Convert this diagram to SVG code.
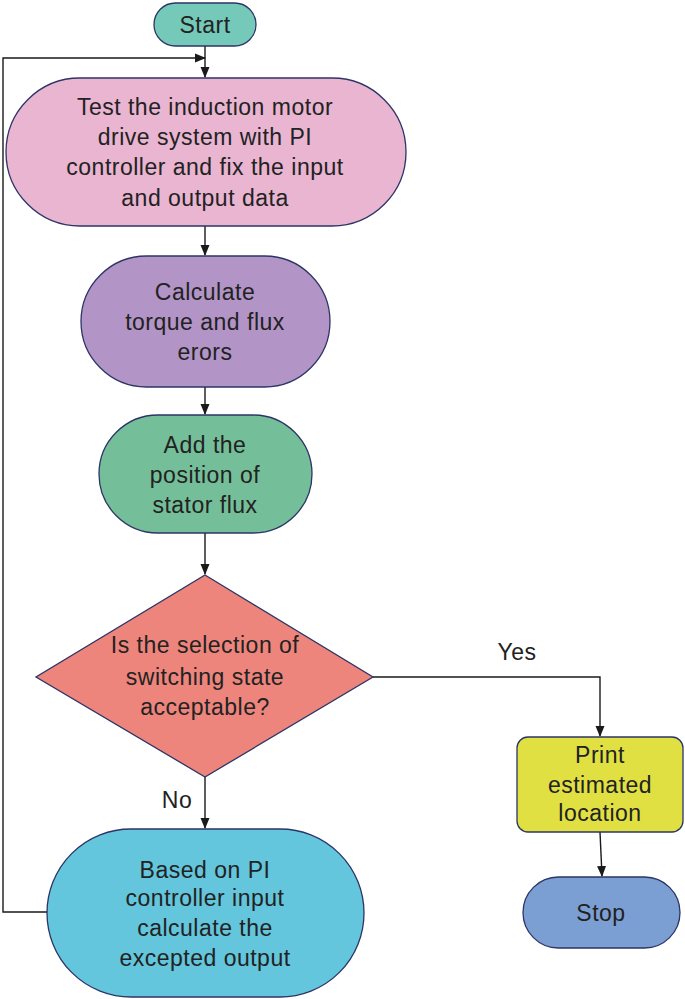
<svg xmlns="http://www.w3.org/2000/svg" width="685" height="999" viewBox="0 0 685 999">
<style>
.n{stroke:#2c3566;stroke-width:1.3}
.t{font-family:"Liberation Sans",Arial,sans-serif;font-size:23px;letter-spacing:0.5px;fill:#222;text-anchor:middle}
.c{fill:none;stroke:#1a1a1a;stroke-width:1.4}
</style>
<defs>
<marker id="a" markerWidth="11" markerHeight="11" refX="10" refY="5.5" orient="auto" markerUnits="userSpaceOnUse">
<path d="M0,1 L11,5.5 L0,10 Z" fill="#1a1a1a"/>
</marker>
</defs>
<rect width="685" height="999" fill="#fff"/>
<g id="connectors">
<path class="c" d="M205,46 V77" marker-end="url(#a)"/>
<path class="c" d="M48,912 H3 V58 H205" marker-end="url(#a)"/>
<path class="c" d="M205,226 V255" marker-end="url(#a)"/>
<path class="c" d="M205,387 V414" marker-end="url(#a)"/>
<path class="c" d="M205,533 V574" marker-end="url(#a)"/>
<path class="c" d="M373,677 H600 V736" marker-end="url(#a)"/>
<path class="c" d="M205,777 V828" marker-end="url(#a)"/>
<path class="c" d="M600,832 L602,876" marker-end="url(#a)"/>
<text class="t" x="517" y="660">Yes</text>
<text class="t" x="177" y="808">No</text>
</g>
<g id="start">
<rect class="n" x="154" y="3" width="102" height="43" rx="21.5" fill="#74c9b9"/>
<text class="t" x="205" y="33">Start</text>
</g>
<g id="test">
<rect class="n" x="6" y="78" width="400" height="148" rx="74" fill="#e9b5d1"/>
<text class="t" x="205" y="115">Test the induction motor</text>
<text class="t" x="205" y="145">drive system with PI</text>
<text class="t" x="205" y="175">controller and fix the input</text>
<text class="t" x="205" y="206">and output data</text>
</g>
<g id="calc">
<rect class="n" x="81" y="256" width="249" height="131" rx="65.5" fill="#b394c6"/>
<text class="t" x="205" y="300">Calculate</text>
<text class="t" x="205" y="330">torque and flux</text>
<text class="t" x="205" y="360">erors</text>
</g>
<g id="add">
<rect class="n" x="99" y="415" width="213" height="118" rx="59" fill="#74bf99"/>
<text class="t" x="205" y="453">Add the</text>
<text class="t" x="205" y="483">position of</text>
<text class="t" x="205" y="513">stator flux</text>
</g>
<g id="decision">
<polygon class="n" points="205,575 373,677 205,777 36,677" fill="#ee857c"/>
<text class="t" x="205" y="653">Is the selection of</text>
<text class="t" x="205" y="685">switching state</text>
<text class="t" x="205" y="715">acceptable?</text>
</g>
<g id="print">
<rect class="n" x="517" y="737" width="166" height="95" rx="11" fill="#e0e043"/>
<text class="t" x="600" y="763">Print</text>
<text class="t" x="600" y="793">estimated</text>
<text class="t" x="600" y="821">location</text>
</g>
<g id="stop">
<rect class="n" x="523" y="877" width="157" height="71" rx="35.5" fill="#7b9fd3"/>
<text class="t" x="601" y="921">Stop</text>
</g>
<g id="based">
<rect class="n" x="47" y="829" width="317" height="168" rx="84" fill="#63c6dc"/>
<text class="t" x="205" y="878">Based on PI</text>
<text class="t" x="205" y="906">controller input</text>
<text class="t" x="205" y="936">calculate the</text>
<text class="t" x="205" y="966">excepted output</text>
</g>
</svg>
